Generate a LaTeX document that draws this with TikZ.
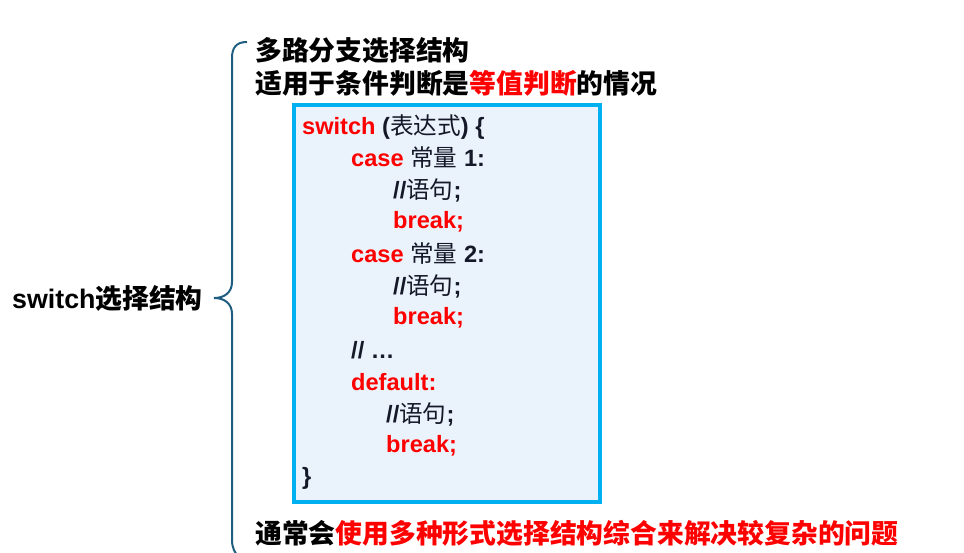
\documentclass[tikz,border=0pt]{standalone}
\usepackage{fontspec}
\setmainfont{Liberation Sans}
\newfontfamily\cjk{Noto Sans CJK SC}
\definecolor{cred}{RGB}{255,0,0}
\definecolor{cblue}{RGB}{0,176,240}
\definecolor{cfill}{RGB}{234,243,251}
\definecolor{brace}{RGB}{31,94,128}
\definecolor{ink}{RGB}{20,24,40}
\tikzset{
 hd/.style={anchor=west,inner sep=0,font=\fontsize{26.8}{28}\selectfont\bfseries\cjk},
 cd/.style={anchor=west,inner sep=0,font=\fontsize{23.6}{25}\selectfont\bfseries,text=ink},
}
\newcommand{\rd}[1]{\textcolor{cred}{#1}}
\newcommand{\cn}[1]{{\mdseries\cjk #1}}
\begin{document}
\begin{tikzpicture}[x=1pt,y=-1pt]
\useasboundingbox (0,0) rectangle (964,553);
\draw[brace,line width=2pt] (247,42) .. controls (236,42) and (232,48) .. (232,58) -- (232,282) .. controls (232,292) and (225,298) .. (214,298) .. controls (225,298) and (232,304) .. (232,314) -- (232,540) .. controls (232,548) and (235,553) .. (238,556);
\node[hd] (l) at (12,298) {{\rmfamily switch}选择结构};
\node[hd] (h1) at (255,50) {多路分支选择结构};
\node[hd] (h2) at (255,83) {适用于条件判断是\rd{等值判断}的情况};
\node[draw=cblue,fill=cfill,line width=4pt,minimum width=306,minimum height=396,inner sep=0] (box) at (446.5,303.5) {};
\node[cd] (c1) at (302,127) {\rd{switch} (\cn{表达式}) \{};
\node[cd] (c2) at (351,158) {\rd{case} \cn{常量} 1:};
\node[cd] (c3) at (393,190) {//\cn{语句};};
\node[cd] (c4) at (393,222) {\rd{break;}};
\node[cd] (c5) at (351,254) {\rd{case} \cn{常量} 2:};
\node[cd] (c6) at (393,286) {//\cn{语句};};
\node[cd] (c7) at (393,318) {\rd{break;}};
\node[cd] (c8) at (351,350) {// …};
\node[cd] (c9) at (351,382) {\rd{default:}};
\node[cd] (c10) at (386,414) {//\cn{语句};};
\node[cd] (c11) at (386,446) {\rd{break;}};
\node[cd] (c12) at (302,478) {\}};
\node[hd] (b) at (255,533) {通常会\rd{使用多种形式选择结构综合来解决较复杂的问题}};
\end{tikzpicture}
\end{document}
